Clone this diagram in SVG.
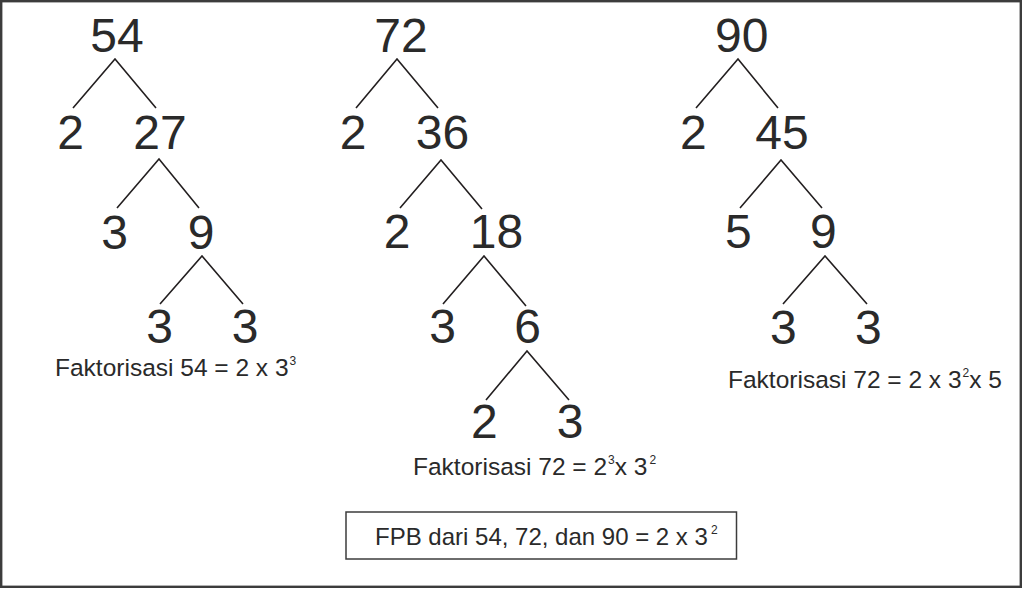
<svg xmlns="http://www.w3.org/2000/svg" width="1023" height="589" viewBox="0 0 1023 589">
<style>
.n{font-family:"Liberation Sans",Arial,sans-serif;font-size:48px;fill:#2a2a2a;text-anchor:middle}
.t{font-family:"Liberation Sans",Arial,sans-serif;font-size:24.5px;fill:#2a2a2a}
.s{font-size:12px}
.e{stroke:#231f20;stroke-width:1.6;fill:none}
</style>
<rect x="1.2" y="1.2" width="1019.6" height="585.6" fill="#ffffff" stroke="#3c3c3c" stroke-width="2.4"/>
<g id="connectors">
<path class="e" d="M73,108 L115,59 L156,108"/>
<path class="e" d="M117,208 L159,159 L199,208"/>
<path class="e" d="M160,304 L202,256 L243,304"/>
<path class="e" d="M356,108 L397,59 L438,108"/>
<path class="e" d="M400,208 L441,160 L482,209"/>
<path class="e" d="M443,304 L484,256 L526,306"/>
<path class="e" d="M486,400 L527,351 L569,400"/>
<path class="e" d="M696,108 L738,59 L778,108"/>
<path class="e" d="M740,208 L781,160 L822,208"/>
<path class="e" d="M783,304 L825,256 L867,304"/>
</g>
<g id="tree54">
<text class="n" x="117" y="52">54</text>
<text class="n" x="70.5" y="149">2</text>
<text class="n" x="160" y="149">27</text>
<text class="n" x="114.7" y="249">3</text>
<text class="n" x="201" y="249">9</text>
<text class="n" x="159.5" y="343">3</text>
<text class="n" x="245" y="343">3</text>
</g>
<g id="tree72">
<text class="n" x="401" y="52">72</text>
<text class="n" x="353" y="149">2</text>
<text class="n" x="442.5" y="149">36</text>
<text class="n" x="397" y="248">2</text>
<text class="n" x="496.5" y="248">18</text>
<text class="n" x="442.5" y="343">3</text>
<text class="n" x="527.5" y="343">6</text>
<text class="n" x="484.3" y="438">2</text>
<text class="n" x="570" y="438">3</text>
</g>
<g id="tree90">
<text class="n" x="741.7" y="52">90</text>
<text class="n" x="693.3" y="149">2</text>
<text class="n" x="782" y="149">45</text>
<text class="n" x="738.3" y="248">5</text>
<text class="n" x="823.3" y="248">9</text>
<text class="n" x="783.3" y="344">3</text>
<text class="n" x="868.3" y="344">3</text>
</g>
<g id="label54">
<text class="t" x="55" y="376">Faktorisasi 54 = 2 x 3<tspan class="s" dx="1" dy="-11">3</tspan></text>
</g>
<g id="label72">
<text class="t" x="413" y="475">Faktorisasi 72 = 2<tspan class="s" dx="1" dy="-11">3</tspan><tspan dy="11">x 3</tspan><tspan class="s" dx="2" dy="-11">2</tspan></text>
</g>
<g id="label90">
<text class="t" x="728" y="388">Faktorisasi 72 = 2 x 3<tspan class="s" dx="1" dy="-11">2</tspan><tspan dy="11">x 5</tspan></text>
</g>
<g id="fpb">
<rect x="346" y="512" width="390.5" height="47" fill="none" stroke="#3c3c3c" stroke-width="1.5"/>
<text class="t" x="375" y="545" style="font-size:24px">FPB dari 54, 72, dan 90 = 2 x 3<tspan class="s" dx="3" dy="-11">2</tspan></text>
</g>
</svg>
